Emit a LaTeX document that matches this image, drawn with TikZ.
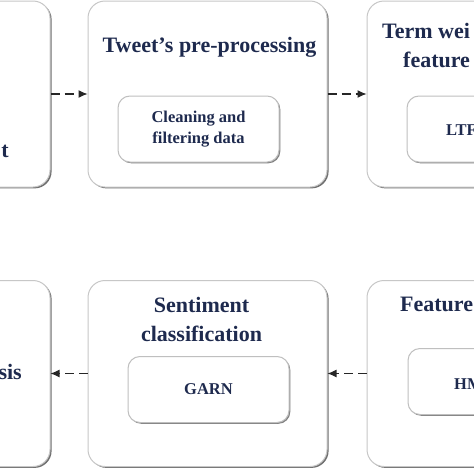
\documentclass[tikz,border=0pt]{standalone}
\usepackage{fontspec}
\setmainfont{Liberation Serif}
\usetikzlibrary{arrows.meta,shadows}
\definecolor{navy}{RGB}{30,42,78}

\tikzset{
  stage/.style={draw=black!22, line width=1pt, fill=white, rounded corners=17pt,
    minimum width=239pt, minimum height=186pt, inner sep=0pt,
    drop shadow={shadow xshift=1.6pt, shadow yshift=-1.4pt, fill=black!75, opacity=0.75}},
  method/.style={draw=black!25, line width=1pt, fill=white, rounded corners=12pt,
    minimum width=161pt, minimum height=66pt, inner sep=0pt, align=center,
    font=\fontsize{16.5}{21}\selectfont\bfseries, text=navy,
    drop shadow={shadow xshift=1.3pt, shadow yshift=-1.3pt, fill=black!70, opacity=0.7}},
  title/.style={font=\fontsize{22}{29}\selectfont\bfseries, text=navy, align=center, inner sep=0pt},
  flow/.style={dash pattern=on 9pt off 5pt, line width=1.1pt, black!85, -{Latex[length=9pt,width=8pt]}}
}

\begin{document}
\begin{tikzpicture}[x=1pt,y=-1pt]
\useasboundingbox (0,0) rectangle (474,474);
\clip (0,0) rectangle (474,474);

% top row
\node[stage] (data) at (-69.5,94) {};
\node[stage] (prep) at (207.5,94) {};
\node[stage] (term) at (486.5,94) {};
\node[title, anchor=base east] (datatitle) at (9,157) {t};
\node[title, anchor=base] (preptitle) at (209.5,52) {Tweet's pre-processing};
\node[title, anchor=base west] (termtitle) at (382,38) {Term wei};
\node[title, anchor=base west] (termtitleb) at (403,67) {feature};
\node[method] (clean) at (198.5,129) {Cleaning and\\filtering data};
\node[method] (ltf) at (487.5,129) {};
\node[title, font=\fontsize{16.5}{21}\selectfont\bfseries, anchor=base west] (ltftext) at (446,135) {LTF};

% bottom row
\node[stage] (senti) at (-69.5,373.5) {};
\node[stage] (classif) at (207.5,373.5) {};
\node[stage] (select) at (486.5,373.5) {};
\node[title, anchor=base east] (sentititle) at (22,379) {sis};
\node[title, anchor=base] (classiftitle) at (201.5,341) {Sentiment\\classification};
\node[title, anchor=base west] (selecttitle) at (400,311) {Feature};
\node[method] (garn) at (208.5,389.5) {GARN};
\node[method] (hm) at (488.5,381.5) {};
\node[title, font=\fontsize{16.5}{21}\selectfont\bfseries, anchor=base west] (hmtext) at (454,389) {HM};

% connectors
\draw[flow] (data.east) -- (prep.west);
\draw[flow] (prep.east) -- (term.west);
\draw[flow] (select.west) -- (classif.east);
\draw[flow] (classif.west) -- (senti.east);
\end{tikzpicture}
\end{document}
